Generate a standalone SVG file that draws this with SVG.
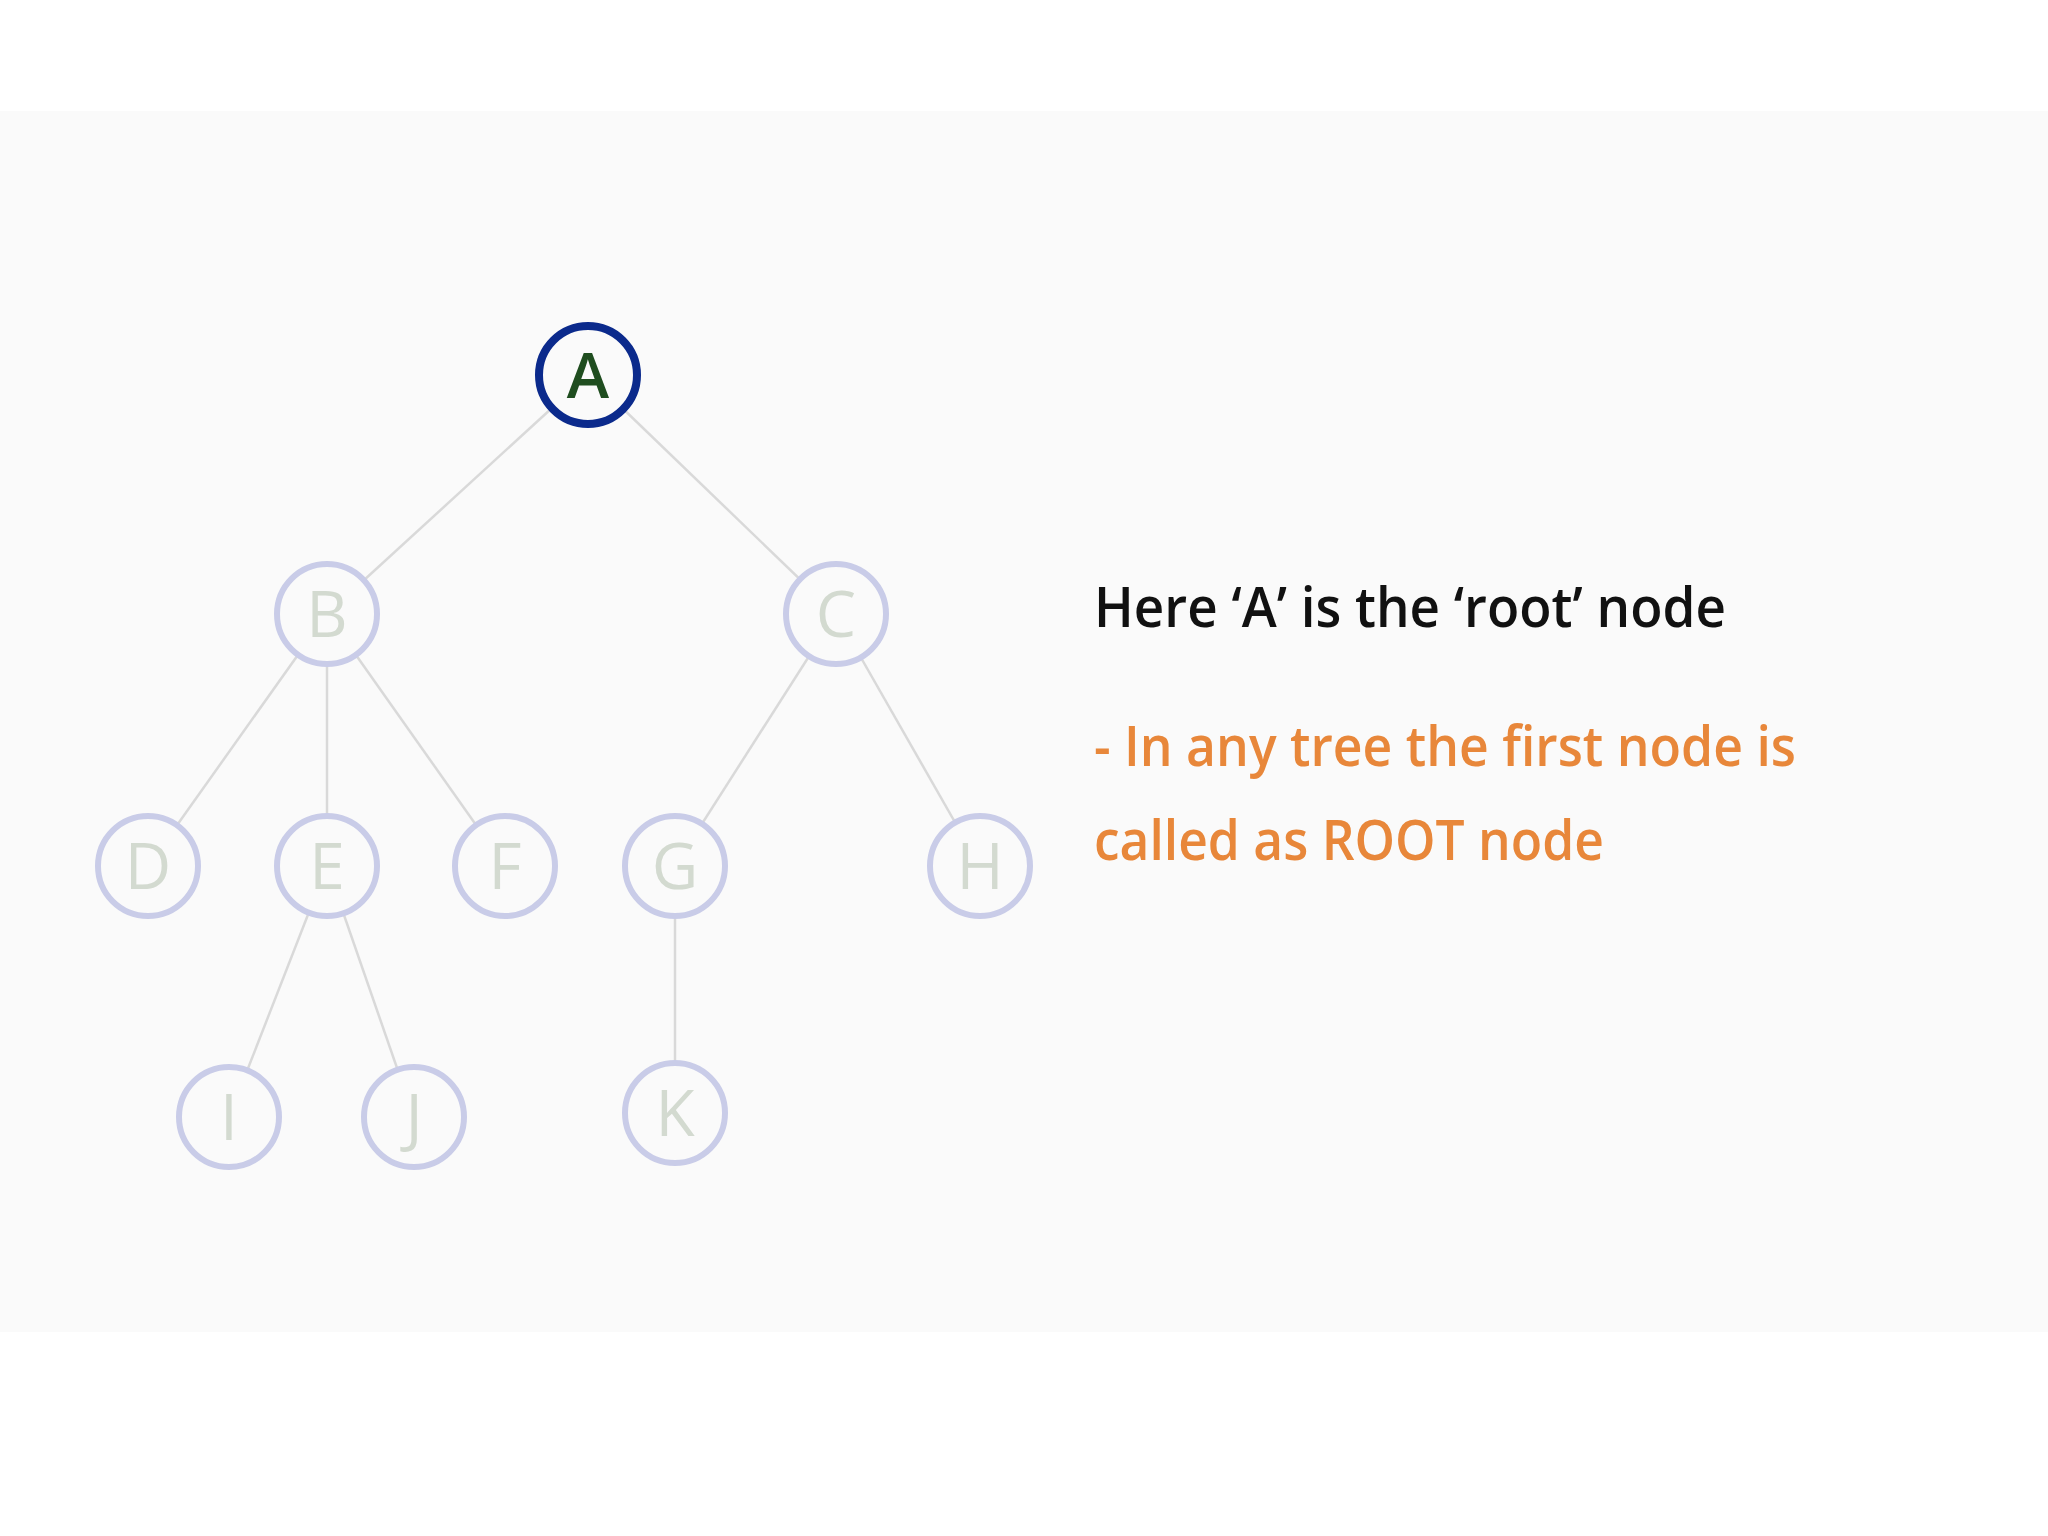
<svg xmlns="http://www.w3.org/2000/svg" width="2048" height="1536" viewBox="0 0 2048 1536">
<style>
.n circle{fill:#fafafa;stroke:#c9cce8;stroke-width:6}
.n text{font-family:"Open Sans","Liberation Sans",Arial,sans-serif;font-size:64px;fill:#d3dad0;text-anchor:middle}
.e line{stroke:#d9d9d9;stroke-width:2.5}
.t{font-family:"Open Sans","Liberation Sans",Arial,sans-serif;font-size:56px;font-weight:600}
</style>
<rect width="2048" height="1536" fill="#ffffff"/>
<rect x="0" y="111" width="2048" height="1221" fill="#fafafa"/>
<g id="connectors" class="e">
<line x1="588" y1="375" x2="327" y2="614"/>
<line x1="588" y1="375" x2="836" y2="614"/>
<line x1="327" y1="614" x2="148" y2="866"/>
<line x1="327" y1="614" x2="327" y2="866"/>
<line x1="327" y1="614" x2="505" y2="866"/>
<line x1="836" y1="614" x2="675" y2="866"/>
<line x1="836" y1="614" x2="980" y2="866"/>
<line x1="327" y1="866" x2="229" y2="1117"/>
<line x1="327" y1="866" x2="414" y2="1117"/>
<line x1="675" y1="866" x2="675" y2="1113"/>
</g>
<g id="A" class="n"><circle cx="588" cy="375" r="49" style="stroke:#0b2a8c;stroke-width:8"/><text x="588" y="398" style="fill:#1f4d1f;font-weight:600">A</text></g>
<g id="B" class="n"><circle cx="327" cy="614" r="50"/><text x="327" y="637">B</text></g>
<g id="C" class="n"><circle cx="836" cy="614" r="50"/><text x="836" y="637">C</text></g>
<g id="D" class="n"><circle cx="148" cy="866" r="50"/><text x="148" y="889">D</text></g>
<g id="E" class="n"><circle cx="327" cy="866" r="50"/><text x="327" y="889">E</text></g>
<g id="F" class="n"><circle cx="505" cy="866" r="50"/><text x="505" y="889">F</text></g>
<g id="G" class="n"><circle cx="675" cy="866" r="50"/><text x="675" y="889">G</text></g>
<g id="H" class="n"><circle cx="980" cy="866" r="50"/><text x="980" y="889">H</text></g>
<g id="I" class="n"><circle cx="229" cy="1117" r="50"/><text x="229" y="1140">I</text></g>
<g id="J" class="n"><circle cx="414" cy="1117" r="50"/><text x="414" y="1140">J</text></g>
<g id="K" class="n"><circle cx="675" cy="1113" r="50"/><text x="675" y="1136">K</text></g>
<text class="t" x="1094" y="627" fill="#111111" textLength="632" lengthAdjust="spacingAndGlyphs">Here ‘A’ is the ‘root’ node</text>
<text class="t" x="1094" y="766" fill="#e8873a" textLength="702" lengthAdjust="spacingAndGlyphs">- In any tree the first node is</text>
<text class="t" x="1094" y="860" fill="#e8873a" textLength="510" lengthAdjust="spacingAndGlyphs">called as ROOT node</text>
</svg>
